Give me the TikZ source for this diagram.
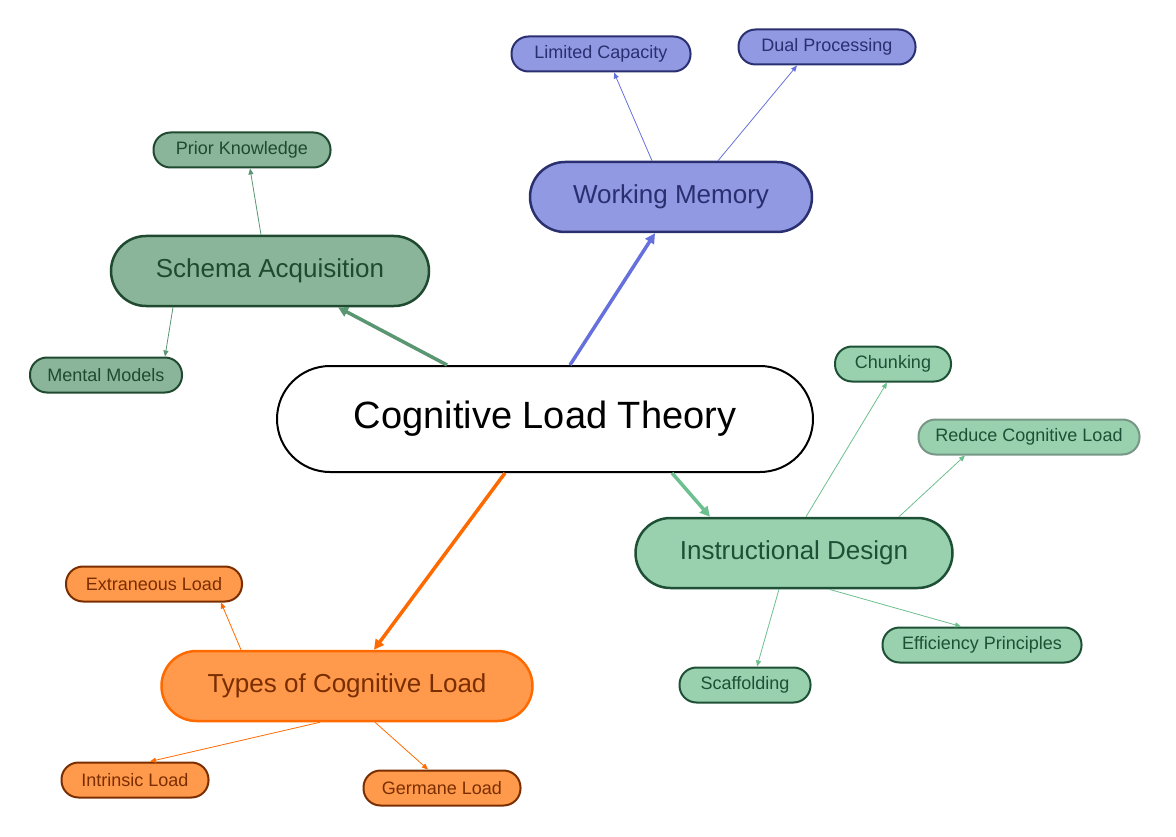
\documentclass[tikz,border=0pt]{standalone}
\usepackage{fontspec}
\setmainfont{Liberation Sans}
\usetikzlibrary{arrows.meta}
\definecolor{wmF}{HTML}{9099E2}\definecolor{wmD}{HTML}{2A2F70}\definecolor{wmL}{HTML}{6670DD}
\definecolor{saF}{HTML}{8BB59A}\definecolor{saD}{HTML}{1F4A30}\definecolor{saL}{HTML}{5A9672}
\definecolor{idF}{HTML}{99D0AE}\definecolor{idD}{HTML}{1D5035}\definecolor{idL}{HTML}{6CBF8E}
\definecolor{tcF}{HTML}{FF9A4D}\definecolor{tcD}{HTML}{7A2E00}\definecolor{tcL}{HTML}{FF6A00}
\tikzset{
 x=1pt,y=-1pt,
 big/.style={draw,line width=2.5pt,rounded corners=35pt,minimum height=70pt,font=\fontsize{26}{28}\selectfont,inner xsep=18pt},
 small/.style={draw,line width=2pt,rounded corners=17pt,minimum height=35pt,font=\fontsize{18}{20}\selectfont,inner xsep=12pt},
 main/.style={line width=3.5pt,-{Triangle[length=10pt,width=10pt]}},
 sub/.style={line width=0.8pt,-{Triangle[length=6pt,width=5pt]}},
}
\begin{document}
\begin{tikzpicture}
\useasboundingbox (0,0) rectangle (1176,837);
\node[draw,line width=2pt,rounded corners=53pt,minimum width=536pt,minimum height=106pt,font=\fontsize{38}{40}\selectfont,fill=white] (c) at (545,419) {Cognitive Load Theory};
\node[big,fill=wmF,draw=wmD,text=wmD,minimum width=282pt] (wm) at (671,197) {Working Memory};
\node[small,fill=wmF,draw=wmD,text=wmD,minimum width=179pt] (lc) at (601,54) {Limited Capacity};
\node[small,fill=wmF,draw=wmD,text=wmD,minimum width=177pt] (dp) at (827,47) {Dual Processing};
\node[big,fill=saF,draw=saD,text=saD,minimum width=318pt] (sa) at (270,271) {Schema Acquisition};
\node[small,fill=saF,draw=saD,text=saD,minimum width=177pt] (pk) at (242,150) {Prior Knowledge};
\node[small,fill=saF,draw=saD,text=saD,minimum width=152pt] (mm) at (106,375) {Mental Models};
\node[big,fill=idF,draw=idD,text=idD,minimum width=317pt] (id) at (794,553) {Instructional Design};
\node[small,fill=idF,draw=idD,text=idD,minimum width=116pt] (ch) at (893,364) {Chunking};
\node[small,fill=idF,draw=idD!60,text=idD,minimum width=221pt] (rc) at (1029,437) {Reduce Cognitive Load};
\node[small,fill=idF,draw=idD,text=idD,minimum width=199pt] (ep) at (982,645) {Efficiency Principles};
\node[small,fill=idF,draw=idD,text=idD,minimum width=131pt] (sc) at (745,685) {Scaffolding};
\node[big,fill=tcF,draw=tcL,text=tcD,minimum width=371pt] (tc) at (347,686) {Types of Cognitive Load};
\node[small,fill=tcF,draw=tcD,text=tcD,minimum width=176pt] (el) at (154,584) {Extraneous Load};
\node[small,fill=tcF,draw=tcD,text=tcD,minimum width=147pt] (il) at (135,780) {Intrinsic Load};
\node[small,fill=tcF,draw=tcD,text=tcD,minimum width=157pt] (gl) at (442,788) {Germane Load};
\draw[main,wmL] ([xshift=25pt]c.north) -- ([xshift=-16pt]wm.south);
\draw[main,saL] ([xshift=-98pt]c.north) -- ([xshift=68pt]sa.south);
\draw[main,idL] ([xshift=127pt]c.south) -- ([xshift=-84pt]id.north);
\draw[main,tcL] ([xshift=-40pt]c.south) -- ([xshift=27pt]tc.north);
\draw[sub,wmL] ([xshift=-19pt]wm.north) -- ([xshift=13pt]lc.south);
\draw[sub,wmL] ([xshift=47pt]wm.north) -- ([xshift=-30pt]dp.south);
\draw[sub,saL] ([xshift=-9pt]sa.north) -- ([xshift=8pt]pk.south);
\draw[sub,saL] ([xshift=-97pt]sa.south) -- ([xshift=59pt]mm.north);
\draw[sub,idL] ([xshift=12pt]id.north) -- ([xshift=-6pt]ch.south);
\draw[sub,idL] ([xshift=105pt]id.north) -- ([xshift=-64pt]rc.south);
\draw[sub,idL] ([xshift=35pt]id.south) -- ([xshift=-21pt]ep.north);
\draw[sub,idL] ([xshift=-15pt]id.south) -- ([xshift=12pt]sc.north);
\draw[sub,tcL] ([xshift=-106pt]tc.north) -- ([xshift=67pt]el.south);
\draw[sub,tcL] ([xshift=-27pt]tc.south) -- ([xshift=15pt]il.north);
\draw[sub,tcL] ([xshift=28pt]tc.south) -- ([xshift=-14pt]gl.north);
\end{tikzpicture}
\end{document}
